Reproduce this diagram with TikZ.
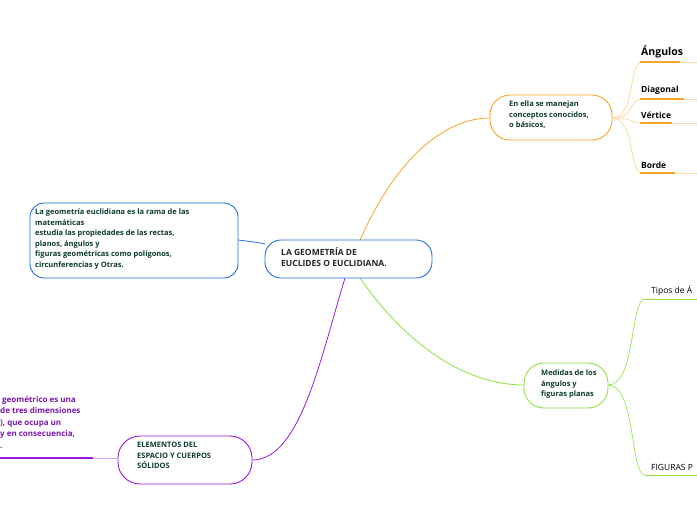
\documentclass[tikz,border=0pt]{standalone}
\usepackage{fontspec}
\setmainfont{Open Sans}
\begin{document}
\begin{tikzpicture}[x=1pt,y=-1pt,
  txt/.style={text=dkg,font=\fontsize{7.5}{10.5}\selectfont\bfseries,align=left,anchor=north west,inner sep=0},
  leaf/.style={text=black,font=\fontsize{8.5}{10}\selectfont\bfseries,anchor=south west,inner sep=0},
  box/.style={draw,rounded corners=14pt,line width=0.9pt,fill=white}]
\definecolor{dkg}{HTML}{0D3B2A}
\definecolor{cb}{HTML}{1F6FE0}
\definecolor{co}{HTML}{F7A425}
\definecolor{cg}{HTML}{8BE03A}
\definecolor{cp}{HTML}{9A1AE0}
\path[use as bounding box] (0,0) rectangle (697,520);
\clip (0,0) rectangle (697,520);
% connectors
\draw[cb,line width=0.8pt] (238,240) .. controls (255,242) .. (265,244);
\draw[co,line width=0.8pt] (360,240) .. controls (400,150) and (450,118) .. (490,118);
\draw[cg,line width=0.8pt] (360,278) .. controls (410,350) and (470,385) .. (524,385);
\draw[cp,line width=0.8pt] (345,278) .. controls (320,360) and (300,460) .. (252,460);
% central
\node[box,draw=cb,minimum width=167pt,minimum height=38pt,rounded corners=16pt] (c) at (348.5,259) {};
\node[txt,font=\fontsize{8.5}{11}\selectfont\bfseries,text=black!85] at (281,247) {LA GEOMETRÍA DE\\EUCLIDES O EUCLIDIANA.};
% blue
\node[box,draw=cb,minimum width=208pt,minimum height=75pt] (b) at (134,240.5) {};
\node[txt] at (35,209) {La geometría euclidiana es la rama de las\\matemáticas\\estudia las propiedades de las rectas,\\planos, ángulos y\\figuras geométricas como polígonos,\\circunferencias y Otras.};
% orange
\node[box,draw=co,minimum width=122pt,minimum height=45pt,rounded corners=20pt] (o) at (551,117.5) {};
\node[txt] at (509,101) {En ella se manejan\\conceptos conocidos,\\o básicos,};
\foreach \y/\t/\l in {62/Ángulos/680,99/Diagonal/684,123/Vértice/672,173/Borde/675}{
  \draw[co!50,line width=0.6pt] (612,118) .. controls (636,118) and (628,\y) .. (642,\y);
  \draw[co,line width=1.2pt] (640,\y) -- (\l,\y);
  \draw[co!40,line width=0.8pt] (\l,\y) -- (697,\y);
}
\node[leaf,font=\fontsize{10.5}{12}\selectfont\bfseries] at (641,58) {Ángulos};
\node[leaf] at (641,95) {Diagonal};
\node[leaf] at (641,119) {Vértice};
\node[leaf] at (641,169) {Borde};
% green
\node[box,draw=cg,minimum width=84pt,minimum height=45pt,rounded corners=20pt] (g) at (566,385.5) {};
\node[txt] at (541,370) {Medidas de los\\ángulos y\\figuras planas};
\foreach \y in {299,475}{
  \draw[cg,line width=0.6pt] (608,385) .. controls (636,385) and (630,\y) .. (645,\y);
  \draw[cg,line width=0.6pt] (645,\y) -- (697,\y);
}
\node[anchor=south west,inner sep=0,font=\fontsize{8.5}{10}\selectfont] at (651,296) {Tipos de Á};
\node[anchor=south west,inner sep=0,font=\fontsize{8.5}{10}\selectfont] at (651,471) {FIGURAS P};
% purple
\node[box,draw=cp,minimum width=134pt,minimum height=48pt,rounded corners=22pt] (p) at (185,460) {};
\node[txt] at (137,442) {ELEMENTOS DEL\\ESPACIO Y CUERPOS\\SÓLIDOS};
\draw[cp,line width=1.2pt] (0,458) -- (93,458);
\draw[cp!40,line width=0.8pt] (93,458) -- (118,458);
\node[txt,text=cp!80!black,font=\fontsize{8}{11.5}\selectfont\bfseries] at (0,396) {\hspace*{2pt}geométrico es una\\de tres dimensiones\\), que ocupa un\\y en consecuencia,\\.};
\end{tikzpicture}
\end{document}
